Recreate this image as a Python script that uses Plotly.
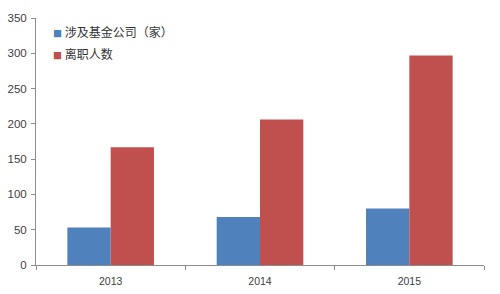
import plotly.graph_objects as go

years = ["2013", "2014", "2015"]
series_names = ["涉及基金公司（家）", "离职人数"]
funds = [53, 68, 80]
departures = [167, 206, 297]
colors = ["#4F81BD", "#C0504D"]
y_ticks = [0, 50, 100, 150, 200, 250, 300, 350]

fig = go.Figure()
for name, vals, c in zip(series_names, [funds, departures], colors):
    fig.add_trace(go.Bar(x=years, y=vals, name=name, marker=dict(color=c, line=dict(width=0)),
                         showlegend=False))

font_family = "Liberation Sans, Arial, Noto Sans CJK SC, sans-serif"
# legend drawn as annotations for tight square-to-text spacing
for i, (name, c) in enumerate(zip(series_names, colors)):
    fig.add_annotation(
        xref="paper", yref="paper", x=0.034, y=0.945 - i * 0.087,
        xanchor="left", yanchor="middle", showarrow=False,
        text=f'<span style="color:{c};font-size:9px">■</span> {name}',
        font=dict(family="Noto Sans CJK SC, sans-serif", size=12, color="#333333"),
    )

fig.update_layout(
    width=500, height=294,
    margin=dict(l=36, r=16, t=18, b=29),
    paper_bgcolor="white", plot_bgcolor="white",
    barmode="group", bargap=0.42, bargroupgap=0,
    font=dict(family=font_family, size=11, color="#404040"),
    xaxis=dict(type="category", showline=True, linecolor="#8C8C8C", linewidth=1,
               ticks="outside", tickson="boundaries", ticklen=4, tickcolor="#8C8C8C",
               ticklabelstandoff=6, automargin=False,
               showgrid=False, tickfont=dict(size=10.5)),
    yaxis=dict(range=[0, 350], tickvals=y_ticks, showline=True, linecolor="#8C8C8C",
               linewidth=1, ticks="outside", ticklen=4, tickcolor="#8C8C8C",
               ticklabelstandoff=2, automargin=False,
               showgrid=False, zeroline=False, tickfont=dict(size=11.5)),
)

fig.write_html("out.html")
